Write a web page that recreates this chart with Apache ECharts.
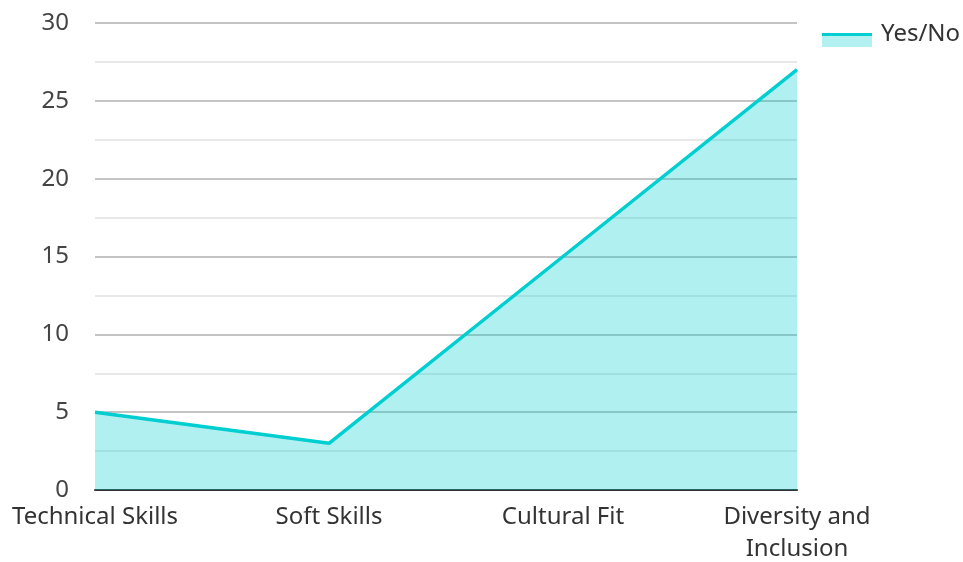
<!DOCTYPE html>
<html><head><meta charset="utf-8">
<script src="https://cdn.jsdelivr.net/npm/echarts@6/dist/echarts.min.js"></script>
<style>html,body{margin:0;padding:0;background:#fff;overflow:hidden}#c{width:963px;height:562px}</style>
</head><body><div id="c"></div>
<script>
const categories = ["Technical Skills", "Soft Skills", "Cultural Fit", "Diversity and\nInclusion"];
const seriesName = "Yes/No";
const values = [5, 3, 15, 27];
const yTicks = [0, 5, 10, 15, 20, 25, 30];

const lineColor = '#00CED1';
const fillColor = 'rgba(0,206,209,0.31)';
const chart = echarts.init(document.getElementById('c'), null, {renderer: 'canvas', width: 963, height: 562});
const font = '"Noto Sans", "Open Sans", sans-serif';
chart.setOption({
  animation: false,
  textStyle: {fontFamily: font},
  grid: {left: 95, right: 166, top: 23, bottom: 72, containLabel: false, outerBoundsMode: 'none'},
  legend: {
    show: true, left: 822, top: 22, itemWidth: 50, itemHeight: 25, itemGap: 10, padding: 0,
    textStyle: {fontSize: 24, color: '#333', fontFamily: font, padding: [0, 0, 0, 4]},
    data: [{
      name: seriesName,
      icon: 'path://M0,0 L50,0 L50,0.001 Z M0,11 L50,11 L50,25 L0,25 Z',
      itemStyle: {color: '#B2F0F1'}
    }]
  },
  graphic: [{
    type: 'rect', left: 822, top: 33, shape: {width: 50, height: 3},
    style: {fill: lineColor}, silent: true, z: 100
  }],
  xAxis: {
    type: 'category', data: categories, boundaryGap: false,
    axisLine: {show: true, lineStyle: {color: '#333', width: 2}},
    axisTick: {show: false},
    axisLabel: {fontSize: 24, color: '#333', margin: 11, lineHeight: 32, interval: 0, fontFamily: font},
    splitLine: {show: false}
  },
  yAxis: {
    type: 'value', min: yTicks[0], max: yTicks[yTicks.length - 1], interval: 5,
    axisLine: {show: false}, axisTick: {show: false},
    axisLabel: {fontSize: 24, color: '#444', margin: 26, fontFamily: font},
    splitLine: {show: true, lineStyle: {color: '#c4c4c4', width: 2}},
    minorTick: {show: false, splitNumber: 2},
    minorSplitLine: {show: true, lineStyle: {color: '#e8e8e8', width: 2}}
  },
  series: [{
    name: seriesName, type: 'line', data: values,
    symbol: 'none', showSymbol: false,
    lineStyle: {color: lineColor, width: 3.5},
    itemStyle: {color: lineColor},
    areaStyle: {color: fillColor, opacity: 1}
  }]
});
</script></body></html>
